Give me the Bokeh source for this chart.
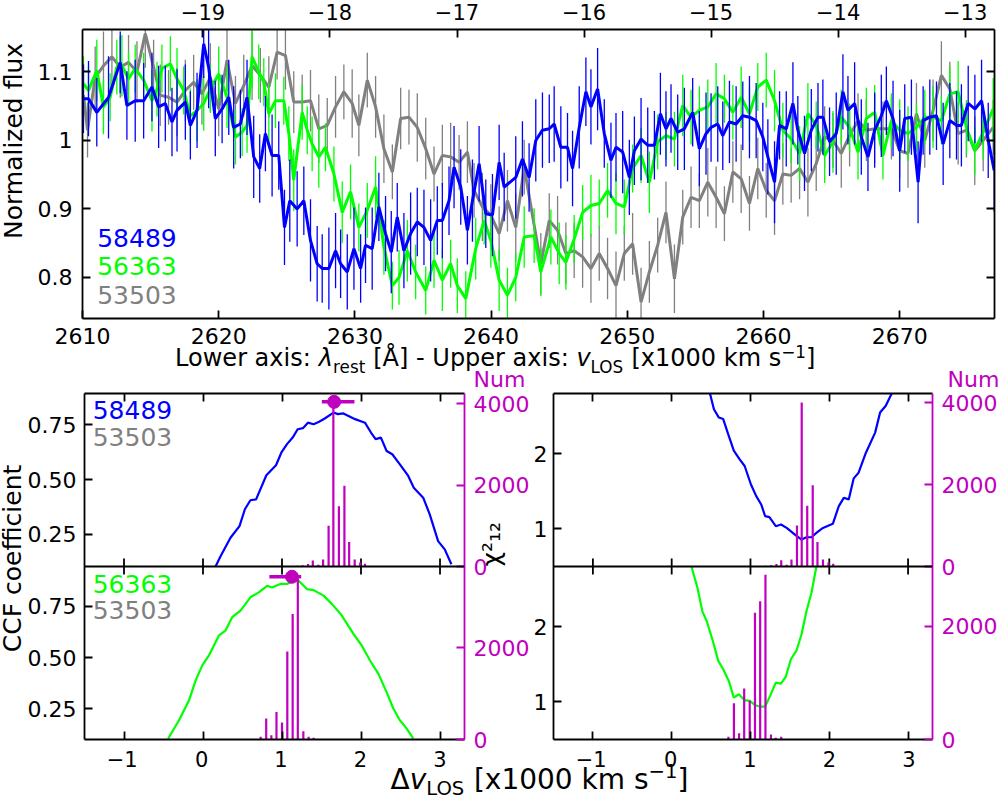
import numpy as np
from bokeh.plotting import figure
from bokeh.models import Range1d, LinearAxis, FixedTicker, Label, Span
from bokeh.layouts import column, row
from bokeh.embed import file_html
from bokeh.resources import INLINE
from bokeh.core.properties import value

FONT = "DejaVu Sans"
BLUE, GREEN, GRAY, MAG = "#0000ff", "#00ff00", "#808080", "#bf00bf"
TICK_FS = "22px"        # tick labels drawn by the axes
STRIP_FS = "21px"       # tick labels drawn in the label strips

# ---------------- spectra: rest wavelength [A], normalized flux, 1-sigma error ----------------
blue_wave = [
    2610.07, 2610.44, 2611.05, 2611.91, 2612.77, 2613.26, 2613.87, 2614.49, 2615.10, 2615.59,
    2616.08, 2616.57, 2616.94, 2617.55, 2617.92, 2618.41, 2618.90, 2619.26, 2619.75, 2620.25,
    2620.74, 2621.10, 2621.59, 2622.08, 2622.57, 2623.01, 2623.43, 2623.92, 2624.41, 2624.83,
    2625.22, 2625.76, 2626.25, 2626.74, 2627.23, 2627.60, 2628.09, 2628.58, 2628.95, 2629.44,
    2629.93, 2630.42, 2630.78, 2631.27, 2631.76, 2632.25, 2632.67, 2633.11, 2633.60, 2634.09,
    2634.58, 2635.07, 2635.56, 2636.05, 2636.42, 2636.91, 2637.28, 2637.77, 2638.26, 2638.63,
    2639.12, 2639.61, 2640.10, 2640.59,
    2640.96, 2641.81, 2642.30, 2642.79, 2643.28, 2643.77, 2644.27, 2644.63, 2645.12, 2645.61,
    2645.98, 2646.47, 2646.96, 2647.33, 2647.82, 2648.31, 2648.80, 2649.17, 2649.66, 2650.15,
    2650.52, 2651.01, 2651.50, 2651.99, 2652.43, 2652.84, 2653.21, 2653.70, 2654.19, 2654.80,
    2655.29, 2655.78, 2656.15, 2656.64, 2657.01, 2657.50, 2657.99, 2658.48, 2658.97, 2659.46,
    2659.95, 2660.32, 2660.81, 2661.18, 2661.67, 2662.16, 2662.52, 2663.01, 2663.51, 2664.00,
    2664.36, 2664.85, 2665.34, 2665.83, 2666.20, 2666.69, 2667.18, 2667.67, 2668.16, 2668.65,
    2669.02, 2669.51, 2670.00, 2670.37, 2670.86, 2671.35, 2671.72, 2672.21, 2672.70, 2673.19,
    2673.68, 2674.17, 2674.53, 2675.03, 2675.52, 2676.01, 2676.50, 2676.94]
blue_flux = [
    1.061, 1.061, 1.041, 1.063, 1.114, 1.051, 1.058, 1.058, 1.078, 1.049,
    1.054, 1.027, 1.044, 1.056, 1.022, 1.044, 1.141, 1.107, 1.032, 1.046,
    1.063, 1.019, 1.024, 1.063, 0.976, 0.959, 1.010, 0.978, 0.978, 0.873,
    0.912, 0.900, 0.912, 0.854, 0.820, 0.813, 0.813, 0.839, 0.820, 0.808,
    0.842, 0.813, 0.847, 0.842, 0.903, 0.864, 0.837, 0.888, 0.839, 0.864,
    0.881, 0.873, 0.854, 0.883, 0.883, 0.912, 0.961, 0.932, 0.869, 0.912,
    0.966, 0.893, 0.891, 0.968,
    0.932, 0.946, 0.973, 0.946, 1.000, 1.015, 1.017, 1.024, 0.990, 0.990,
    0.959, 1.019, 1.071, 1.049, 1.075, 1.010, 0.971, 0.990, 0.983, 0.946,
    0.985, 1.002, 0.993, 0.993, 1.039, 1.017, 1.032, 1.012, 1.017, 1.041,
    0.988, 1.010, 1.019, 1.024, 1.007, 1.027, 1.024, 1.036, 1.034, 1.029,
    1.005, 0.976, 0.939, 1.022, 1.017, 1.054, 1.015, 0.981, 1.015, 1.034,
    1.034, 0.998, 1.010, 1.071, 1.044, 1.054, 1.005, 0.976, 1.015, 1.036,
    1.058, 1.032, 0.985, 1.032, 1.034, 0.939, 1.029, 1.034, 1.036, 0.995,
    1.029, 1.022, 1.022, 1.054, 1.046, 1.058, 1.000, 0.956]
blue_err = [
    0.050, 0.055, 0.050, 0.060, 0.045, 0.050, 0.060, 0.055, 0.050, 0.060,
    0.055, 0.050, 0.060, 0.055, 0.050, 0.055, 0.050, 0.060, 0.055, 0.050,
    0.055, 0.060, 0.050, 0.055, 0.060, 0.050, 0.055, 0.060, 0.050, 0.055,
    0.060, 0.055, 0.050, 0.060, 0.055, 0.050, 0.060, 0.055, 0.050, 0.055,
    0.060, 0.050, 0.055, 0.060, 0.050, 0.055, 0.060, 0.050, 0.055, 0.060,
    0.050, 0.055, 0.060, 0.050, 0.055, 0.050, 0.060, 0.055, 0.050, 0.060,
    0.055, 0.050, 0.060, 0.055,
    0.050, 0.060, 0.055, 0.050, 0.060, 0.055, 0.050, 0.055, 0.060, 0.050,
    0.055, 0.060, 0.050, 0.055, 0.060, 0.050, 0.055, 0.050, 0.060, 0.055,
    0.050, 0.060, 0.055, 0.050, 0.060, 0.055, 0.050, 0.055, 0.060, 0.050,
    0.055, 0.060, 0.050, 0.055, 0.050, 0.060, 0.055, 0.050, 0.060, 0.055,
    0.050, 0.055, 0.060, 0.050, 0.055, 0.060, 0.050, 0.055, 0.060, 0.050,
    0.055, 0.050, 0.060, 0.055, 0.050, 0.060, 0.055, 0.050, 0.055, 0.060,
    0.050, 0.055, 0.060, 0.050, 0.055, 0.060, 0.050, 0.055, 0.050, 0.060,
    0.055, 0.050, 0.060, 0.055, 0.050, 0.060, 0.055, 0.060]

green_wave = [
    2610.07, 2610.44, 2611.05, 2611.54, 2612.03, 2612.52, 2612.89, 2613.38, 2613.87, 2614.49,
    2615.10, 2615.47, 2615.83, 2616.45, 2616.94, 2617.43, 2617.92, 2618.41, 2618.90, 2619.39,
    2620.00, 2620.61, 2621.23, 2621.72, 2622.08, 2622.45, 2622.94, 2623.31, 2623.68, 2624.17,
    2624.78, 2625.15, 2625.51, 2626.13, 2626.50, 2626.86, 2627.35, 2627.84, 2628.46, 2629.07,
    2629.68, 2630.29, 2630.91, 2631.52, 2632.13, 2632.75, 2633.24, 2633.85, 2634.46, 2635.20,
    2635.81, 2636.42, 2637.03, 2637.52, 2638.14, 2638.87, 2639.49, 2639.98, 2640.59,
    2641.20, 2641.81, 2642.43, 2643.16, 2643.65, 2644.39, 2645.00, 2645.49, 2646.10, 2646.72,
    2647.33, 2647.94, 2648.55, 2649.17, 2649.78, 2650.39, 2651.01, 2651.62, 2652.23, 2652.84,
    2653.46, 2654.07, 2654.68, 2655.29, 2655.91, 2656.52, 2657.13, 2657.75, 2658.36, 2658.97,
    2659.58, 2660.20, 2660.81, 2661.42, 2662.03, 2662.65, 2663.26, 2663.87, 2664.49, 2665.10,
    2665.71, 2666.32, 2666.94, 2667.55, 2668.16, 2668.77, 2669.39, 2670.00, 2670.61, 2671.23,
    2671.84, 2672.45, 2673.06, 2673.68, 2674.29, 2674.90, 2675.51, 2676.13, 2676.86]
green_flux = [
    1.083, 1.073, 1.102, 1.049, 1.063, 1.107, 1.109, 1.090, 1.105, 1.088,
    1.058, 1.075, 1.105, 1.112, 1.090, 1.073, 1.036, 1.044, 1.054, 1.075,
    1.097, 1.063, 1.005, 1.012, 1.022, 1.122, 1.100, 1.085, 1.039, 1.058,
    1.058, 1.010, 0.942, 1.041, 1.015, 0.995, 0.976, 0.990, 0.951, 0.895,
    0.925, 0.873, 0.898, 0.932, 0.844, 0.788, 0.800, 0.839, 0.808, 0.781,
    0.825, 0.796, 0.820, 0.788, 0.769, 0.842, 0.883, 0.854, 0.796,
    0.774, 0.800, 0.859, 0.861, 0.808, 0.859, 0.835, 0.822, 0.856, 0.895,
    0.905, 0.908, 0.927, 0.908, 0.903, 0.959, 0.978, 0.939, 0.998, 1.007,
    1.002, 1.051, 1.034, 1.044, 1.049, 1.068, 1.061, 1.041, 1.063, 1.039,
    1.078, 1.088, 1.058, 1.015, 1.002, 0.981, 1.039, 1.022, 0.978, 0.998,
    1.034, 1.019, 0.983, 1.032, 1.041, 0.978, 1.029, 1.015, 1.010, 1.019,
    1.034, 1.034, 1.029, 1.068, 1.071, 1.019, 0.985, 1.012, 1.046]
green_err = [
    0.040, 0.035, 0.045, 0.040, 0.035, 0.040, 0.045, 0.040, 0.035, 0.040,
    0.045, 0.040, 0.035, 0.040, 0.045, 0.035, 0.040, 0.045, 0.040, 0.035,
    0.040, 0.045, 0.040, 0.035, 0.040, 0.045, 0.040, 0.035, 0.045, 0.040,
    0.035, 0.040, 0.045, 0.040, 0.035, 0.040, 0.045, 0.035, 0.040, 0.045,
    0.040, 0.035, 0.040, 0.045, 0.040, 0.035, 0.040, 0.045, 0.040, 0.035,
    0.040, 0.045, 0.035, 0.040, 0.040, 0.045, 0.035, 0.040, 0.045,
    0.040, 0.035, 0.045, 0.040, 0.035, 0.040, 0.045, 0.040, 0.035, 0.040,
    0.045, 0.035, 0.040, 0.045, 0.040, 0.035, 0.040, 0.045, 0.040, 0.035,
    0.040, 0.045, 0.040, 0.035, 0.040, 0.045, 0.035, 0.040, 0.045, 0.040,
    0.035, 0.040, 0.045, 0.040, 0.035, 0.040, 0.045, 0.035, 0.040, 0.045,
    0.040, 0.035, 0.040, 0.045, 0.040, 0.035, 0.040, 0.045, 0.040, 0.035,
    0.040, 0.045, 0.035, 0.040, 0.045, 0.040, 0.035, 0.040, 0.045]

gray_wave = [
    2610.07, 2610.37, 2610.93, 2611.54, 2612.16, 2612.77, 2613.38, 2614.00, 2614.61, 2615.22,
    2615.71, 2616.32, 2616.94, 2617.55, 2618.16, 2618.77, 2619.39, 2620.00, 2620.61, 2621.23,
    2621.84, 2622.45, 2623.06, 2623.68, 2624.29, 2624.90, 2625.51, 2626.13, 2626.74, 2627.35,
    2627.97, 2628.58, 2629.19, 2629.80, 2630.29, 2630.91, 2631.52, 2632.13, 2632.75, 2633.36,
    2633.97, 2634.58, 2635.20, 2635.81, 2636.42, 2637.03, 2637.65, 2638.26, 2638.75, 2639.36,
    2639.98, 2640.59,
    2641.20, 2641.81, 2642.43, 2643.65, 2644.27, 2644.88, 2645.49, 2646.10, 2646.72, 2647.33,
    2647.94, 2648.55, 2649.17, 2649.78, 2650.39, 2651.01, 2651.62, 2652.23, 2652.84, 2653.46,
    2654.07, 2654.68, 2655.29, 2655.91, 2656.52, 2657.13, 2657.75, 2658.36, 2658.97, 2659.58,
    2660.20, 2660.81, 2661.42, 2662.03, 2662.65, 2663.26, 2663.87, 2664.49, 2665.10, 2665.71,
    2666.32, 2666.94, 2667.55, 2668.16, 2668.77, 2669.39, 2670.00, 2670.61, 2671.23, 2671.84,
    2672.45, 2673.06, 2673.68, 2674.29, 2674.90, 2675.51, 2676.13, 2676.86]
gray_flux = [
    1.066, 1.015, 1.092, 1.109, 1.122, 1.107, 1.114, 1.100, 1.156, 1.107,
    1.066, 1.063, 1.056, 1.073, 1.085, 1.068, 1.092, 1.046, 1.117, 1.054,
    1.080, 1.109, 1.095, 1.078, 1.129, 1.124, 1.056, 1.056, 1.058, 1.017,
    1.022, 1.049, 1.071, 1.054, 1.022, 1.088, 1.049, 0.988, 0.954, 1.032,
    1.034, 1.019, 0.988, 0.951, 0.978, 0.976, 0.968, 0.983, 0.927, 0.903,
    0.891, 0.864,
    0.912, 0.873, 0.961, 0.820, 0.883, 0.869, 0.835, 0.839, 0.830, 0.813,
    0.835, 0.813, 0.788, 0.835, 0.849, 0.764, 0.808, 0.847, 0.895, 0.798,
    0.888, 0.917, 0.912, 0.939, 0.917, 0.893, 0.954, 0.944, 0.908, 0.959,
    0.927, 0.912, 0.951, 0.949, 0.959, 0.939, 0.966, 1.005, 1.000, 0.981,
    1.007, 1.029, 1.015, 1.017, 1.017, 1.017, 0.985, 0.981, 1.039, 1.000,
    1.044, 1.095, 1.075, 1.010, 1.015, 0.985, 1.000, 1.019]
gray_err = [
    0.045, 0.040, 0.045, 0.050, 0.040, 0.045, 0.040, 0.045, 0.050, 0.040,
    0.045, 0.040, 0.050, 0.045, 0.040, 0.045, 0.050, 0.040, 0.045, 0.040,
    0.045, 0.050, 0.040, 0.045, 0.040, 0.050, 0.045, 0.040, 0.045, 0.050,
    0.040, 0.045, 0.040, 0.050, 0.045, 0.040, 0.045, 0.050, 0.040, 0.045,
    0.040, 0.050, 0.045, 0.040, 0.045, 0.050, 0.040, 0.045, 0.040, 0.050,
    0.045, 0.040,
    0.045, 0.050, 0.040, 0.045, 0.040, 0.050, 0.045, 0.040, 0.045, 0.050,
    0.040, 0.045, 0.050, 0.040, 0.045, 0.050, 0.045, 0.040, 0.045, 0.050,
    0.040, 0.045, 0.040, 0.050, 0.045, 0.040, 0.045, 0.050, 0.040, 0.045,
    0.040, 0.050, 0.045, 0.040, 0.045, 0.050, 0.040, 0.045, 0.040, 0.050,
    0.045, 0.040, 0.045, 0.050, 0.040, 0.045, 0.040, 0.050, 0.045, 0.040,
    0.045, 0.050, 0.040, 0.045, 0.040, 0.050, 0.045, 0.040]

epoch_names = ["58489", "56363", "53503"]

# ---------------- CCF and chi^2 curves vs. velocity shift [x1000 km/s] ----------------
ccf_a_dv = [0.159, 0.222, 0.348, 0.462, 0.530, 0.600, 0.672, 0.802, 0.924, 0.991, 1.063, 1.135,
            1.198, 1.265, 1.328, 1.400, 1.470, 1.546, 1.652, 1.706, 1.778, 1.925, 2.050, 2.126,
            2.185, 2.252, 2.324, 2.396, 2.492, 2.598, 2.668, 2.787, 2.870, 2.976, 3.060, 3.144]
ccf_a_val = [0.104, 0.151, 0.235, 0.288, 0.365, 0.406, 0.410, 0.520, 0.566, 0.623, 0.662, 0.692,
             0.730, 0.735, 0.760, 0.753, 0.764, 0.780, 0.806, 0.799, 0.802, 0.776, 0.760, 0.715,
             0.685, 0.692, 0.631, 0.616, 0.570, 0.517, 0.463, 0.418, 0.342, 0.220, 0.182, 0.114]
ccf_b_dv = [-0.441, -0.303, -0.177, -0.093, -0.009, 0.076, 0.202, 0.285, 0.370, 0.474, 0.600,
            0.706, 0.811, 0.874, 0.979, 1.063, 1.148, 1.211, 1.315, 1.400, 1.526, 1.630, 1.757,
            1.904, 2.009, 2.114, 2.219, 2.324, 2.409, 2.492, 2.576, 2.661]
ccf_b_val = [0.106, 0.195, 0.292, 0.389, 0.462, 0.511, 0.608, 0.632, 0.697, 0.729, 0.794,
             0.818, 0.850, 0.842, 0.859, 0.859, 0.875, 0.875, 0.834, 0.829, 0.802, 0.762, 0.705,
             0.616, 0.559, 0.486, 0.422, 0.332, 0.252, 0.195, 0.155, 0.106]
chi_a_dv = [0.486, 0.536, 0.599, 0.654, 0.717, 0.788, 0.863, 0.926, 1.006, 1.073, 1.136, 1.186,
            1.240, 1.321, 1.387, 1.459, 1.572, 1.648, 1.711, 1.774, 1.836, 1.920, 2.045, 2.121,
            2.184, 2.247, 2.310, 2.372, 2.465, 2.582, 2.645, 2.717, 2.792]
chi_a_val = [2.800, 2.590, 2.480, 2.460, 2.260, 2.040, 1.925, 1.836, 1.590, 1.436, 1.325, 1.169,
             1.156, 1.036, 1.058, 1.013, 0.916, 0.858, 0.889, 0.889, 0.947, 1.013, 1.067, 1.303,
             1.413, 1.392, 1.672, 1.747, 2.013, 2.280, 2.547, 2.636, 2.800]
chi_b_dv = [0.252, 0.327, 0.390, 0.444, 0.516, 0.591, 0.654, 0.725, 0.788, 0.851, 0.926, 0.989,
            1.060, 1.123, 1.186, 1.249, 1.321, 1.387, 1.447, 1.513, 1.585, 1.648, 1.711, 1.774,
            1.836]
chi_b_val = [2.797, 2.518, 2.200, 2.076, 1.833, 1.545, 1.434, 1.279, 1.057, 1.102, 1.023, 1.013,
             0.956, 0.938, 0.938, 1.080, 1.256, 1.243, 1.332, 1.567, 1.686, 1.899, 2.208, 2.451,
             2.797]

# histograms of the best shift (counts)
hist_a_dv = [1.19, 1.26, 1.33, 1.39, 1.46, 1.52, 1.59, 1.65, 1.72, 1.79, 1.85, 1.92, 1.99, 2.05]
hist_a_num = [20, 30, 60, 150, 40, 170, 1000, 4000, 1480, 1980, 600, 170, 100, 70]
hist_b_dv = [0.73, 0.80, 0.865, 0.93, 1.00, 1.067, 1.135, 1.20, 1.27, 1.337, 1.40]
hist_b_num = [60, 460, 90, 600, 370, 1920, 2740, 3500, 180, 60, 40]
hist_c_dv = [0.72, 0.79, 0.855, 0.92, 0.99, 1.057, 1.123, 1.19, 1.26, 1.32, 1.39]
hist_c_num = [50, 640, 110, 900, 690, 2240, 2440, 2910, 90, 30, 50]

# best shift with its range (lo, best, hi) and marker height on the CCF axis
best_a = (1.504, 1.660, 1.917, 0.855)
best_b = (0.840, 1.126, 1.243, 0.894)

# ---------------- ranges and ticks ----------------
wave_range = (2610.0, 2676.96)
flux_range = (0.740, 1.162)
wave_ticks = [2610, 2620, 2630, 2640, 2650, 2660, 2670]
vel_ticks = [-19, -18, -17, -16, -15, -14, -13]
flux_ticks = [0.8, 0.9, 1.0, 1.1]
LAM0 = 2796.05
C_KMS = 299792.458
dv_range = (-1.5, 3.31)
dv_ticks = [-1, 0, 1, 2, 3]
ccf_a_range = (0.104, 0.893)
ccf_b_range = (0.101, 0.944)
ccf_ticks = [0.25, 0.50, 0.75]
chi_range = (0.5, 2.8)
chi_ticks = [1, 2]
num_a_range = (0, 4246)
num_b_range = (0, 3774)
num_a2_range = (0, 4220)
num_c_range = (0, 3056)
num_ticks_a = [0, 2000, 4000]
num_ticks_b = [0, 2000]

# ---------------- page layout (pixels) ----------------
PAGE_W, PAGE_H = 1000, 801
LAB_W = 24                       # narrow column holding the rotated y labels
TS_H = 28                        # strip with upper-axis tick labels
TOP_Y0, TOP_FRAME_Y0, TOP_FRAME_Y1, TOP_Y1 = 28, 29, 318, 320
TOP_FRAME_X0, TOP_FRAME_X1 = 82, 994
MID_Y0, MID_Y1 = 320, 392
COL_Y0, COL_FRAME_Y0, COL_FRAME_Y1, COL_Y1 = 392, 393, 739, 748
L_W, L_FRAME_X0, L_FRAME_X1 = 506, 82, 464
R_W, R_FRAME_X0, R_FRAME_X1 = 470, 551, 933


def minus(v):
    return f"{v:g}".replace("-", "\u2212")


def style_axis(ax, color="black", labels=True, standoff=8):
    ax.axis_line_color = color
    ax.axis_line_width = 1.8
    ax.major_tick_line_color = color
    ax.major_tick_line_width = 1.8
    ax.major_tick_in = 8
    ax.major_tick_out = 0
    ax.minor_tick_in = 0
    ax.minor_tick_out = 0
    ax.minor_tick_line_color = None
    ax.major_label_text_font = FONT
    ax.major_label_text_font_size = TICK_FS if labels else "0px"
    ax.major_label_text_color = color if labels else None
    ax.major_label_standoff = standoff if labels else 0
    ax.axis_label_text_font = FONT
    ax.axis_label_text_font_style = "normal"
    ax.axis_label_text_color = "black"
    return ax


ADV = {' ': 651, '[': 799, ']': 799, 'x': 1212, 'k': 1186, 'm': 1995, 's': 1067, 'L': 1141,
       'o': 1253, 'w': 1675, 'e': 1260, 'r': 842, 'a': 1255, 'i': 569, ':': 690, '\u00c5': 1401,
       '-': 739, 'U': 1499, 'p': 1300, 'v': 1212, 'O': 1612, 'S': 1300, 't': 803,
       '\u0394': 1401, '\u03bb': 1212, '\u2212': 1716}
MID = 0.346   # baseline -> vertical middle of the text box, in em


def adv(text, size):
    return sum(ADV.get(ch, 1303) for ch in text) / 2048.0 * size


def compose(fig, x, base, pieces, color="black"):
    """pieces: (text, px size, baseline raise in px, style); fig uses page-pixel data units"""
    for text, size, rise, style in pieces:
        core = text.strip(" ")
        lead = len(text) - len(text.lstrip(" "))
        fig.add_layout(Label(x=x + lead * ADV[' '] / 2048.0 * size, y=base - rise - MID * size,
                             text=core, text_font=FONT, text_font_size=f"{size}px",
                             text_font_style=style, text_color=color,
                             text_baseline="middle", text_align="left"))
        x += adv(text, size)


def upper(rng):
    lo, hi = rng
    return Range1d(lo - (hi - lo), hi)


def lower(rng):
    lo, hi = rng
    return Range1d(lo, hi + (hi - lo))


def panel_ticks(vals, rng, is_upper):
    lo, hi = rng
    base = 1.0 if is_upper else 0.0
    return [round(base + (v - lo) / (hi - lo), 6) for v in vals]


def page_fig(x0, x1, y0, y1, bt=0, bb=0):
    """blank figure whose data units are page pixels (y grows downward)"""
    f = figure(width=x1 - x0, height=y1 - y0, x_range=Range1d(x0, x1),
               y_range=Range1d(y1 - bb, y0 + bt), x_axis_type=None, y_axis_type=None,
               output_backend="svg", toolbar_location=None, min_border_left=0,
               min_border_right=0, min_border_top=bt, min_border_bottom=bb)
    f.outline_line_color = None
    return f


def stretch(rng, f0, f1, s0, s1):
    """data range that maps a frame [f0, f1] (page px) onto a wider strip [s0, s1]"""
    k = (rng[1] - rng[0]) / (f1 - f0)
    return Range1d(rng[0] - (f0 - s0) * k, rng[0] + (s1 - f0) * k)


# ====================== strip with the upper-axis tick labels ======================
vel_range = (C_KMS * (wave_range[0] / LAM0 - 1) / 1000.0, C_KMS * (wave_range[1] / LAM0 - 1) / 1000.0)
tstrip = page_fig(0, PAGE_W, 0, TS_H)
tstrip.extra_x_ranges = {"vel": stretch(vel_range, TOP_FRAME_X0, TOP_FRAME_X1, 0, PAGE_W)}
tstrip.text(x=vel_ticks, y=[11.0] * len(vel_ticks), text=[minus(v) for v in vel_ticks],
            x_range_name="vel", text_align="center", text_baseline="middle",
            text_font=value(FONT), text_font_size=value(STRIP_FS), text_color="black")

# ====================== top panel: spectra ======================
top = figure(width=PAGE_W - LAB_W, height=TOP_Y1 - TOP_Y0, x_range=Range1d(*wave_range),
             y_range=Range1d(*flux_range), x_axis_type=None, y_axis_type=None,
             output_backend="svg", toolbar_location=None,
             min_border_left=TOP_FRAME_X0 - LAB_W, min_border_right=PAGE_W - TOP_FRAME_X1,
             min_border_top=TOP_FRAME_Y0 - TOP_Y0, min_border_bottom=TOP_Y1 - TOP_FRAME_Y1)
top.outline_line_color = None
top.extra_x_ranges = {"vel": Range1d(*vel_range)}

for wave, flux, err, col in [(gray_wave, gray_flux, gray_err, GRAY),
                             (green_wave, green_flux, green_err, GREEN),
                             (blue_wave, blue_flux, blue_err, BLUE)]:
    n = min(len(wave), len(flux), len(err))
    w = np.array(wave[:n]); f = np.array(flux[:n]); e = np.array(err[:n])
    top.segment(x0=w, y0=f - e, x1=w, y1=f + e, line_color=col, line_width=1.3)
    top.line(w, f, line_color=col, line_width=3)

for name, col, y in zip(epoch_names, [BLUE, GREEN, GRAY], [0.8577, 0.816, 0.7737]):
    top.add_layout(Label(x=2611.08, y=y, text=name, text_color=col, text_font=FONT,
                         text_font_size="25px", text_baseline="middle"))

top.add_layout(style_axis(LinearAxis(ticker=FixedTicker(ticks=wave_ticks)), labels=False), "below")
top.add_layout(style_axis(LinearAxis(x_range_name="vel", ticker=FixedTicker(ticks=vel_ticks)),
                          labels=False), "above")
top.add_layout(style_axis(LinearAxis(ticker=FixedTicker(ticks=flux_ticks)), standoff=10), "left")
top.add_layout(style_axis(LinearAxis(ticker=FixedTicker(ticks=flux_ticks)), labels=False), "right")

lab_top = page_fig(0, LAB_W, TOP_Y0, TOP_Y1, bt=TOP_FRAME_Y0 - TOP_Y0, bb=TOP_Y1 - TOP_FRAME_Y1)
lab_top.add_layout(Label(x=13.0, y=140.5, text="Normalized flux", angle=np.pi / 2, text_font=FONT,
                         text_font_size="25px", text_color="black", text_align="center",
                         text_baseline="middle"))

# ====================== strip between the rows ======================
mid = page_fig(0, PAGE_W, MID_Y0, MID_Y1)
mid.extra_x_ranges = {"wave": stretch(wave_range, TOP_FRAME_X0, TOP_FRAME_X1, 0, PAGE_W)}
mid.text(x=wave_ticks, y=[335.0] * len(wave_ticks), text=[str(v) for v in wave_ticks],
         x_range_name="wave", text_align="center", text_baseline="middle",
         text_font=value(FONT), text_font_size=value(TICK_FS), text_color="black")
compose(mid, 174.6, 366.0, [
    ("Lower axis: ", 24, 0, "normal"), ("\u03bb", 24, 0, "italic"), ("rest", 16.8, -6.0, "normal"),
    (" [\u00c5] - Upper axis: ", 24, 0, "normal"), ("v", 24, 0, "italic"),
    ("LOS", 16.8, -6.0, "normal"), (" [x1000 km s", 24, 0, "normal"),
    ("\u22121", 16.8, 9.0, "normal"), ("]", 24, 0, "normal")])
for xn in (473, 947):
    compose(mid, xn, 386.5, [("Num", 22, 0, "normal")], color=MAG)


# ====================== lower panels ======================
def col_fig(width, x0, f0, f1):
    f = figure(width=width, height=COL_Y1 - COL_Y0, x_range=Range1d(*dv_range), y_range=Range1d(0, 2),
               x_axis_type=None, y_axis_type=None, output_backend="svg", toolbar_location=None,
               min_border_left=f0 - x0, min_border_right=x0 + width - f1,
               min_border_top=COL_FRAME_Y0 - COL_Y0, min_border_bottom=COL_Y1 - COL_FRAME_Y1)
    f.outline_line_color = None
    f.add_layout(Span(location=1, dimension="width", line_color="black", line_width=1.8))
    f.scatter(x=dv_ticks, y=[1] * len(dv_ticks), marker="dash", angle=np.pi / 2, size=16,
              line_color="black", line_width=1.8)
    f.add_layout(style_axis(LinearAxis(ticker=FixedTicker(ticks=dv_ticks)), labels=False), "below")
    f.add_layout(style_axis(LinearAxis(ticker=FixedTicker(ticks=dv_ticks)), labels=False), "above")
    return f


def right_num_axis(f, rng_a, rng_b, label=None):
    rt = panel_ticks(num_ticks_a, rng_a, True) + panel_ticks(num_ticks_b, rng_b, False)
    labs = [str(v) for v in num_ticks_a + num_ticks_b]
    ax = style_axis(LinearAxis(ticker=FixedTicker(ticks=rt), major_label_overrides=dict(zip(rt, labs))),
                    color=MAG, standoff=9)
    if label:
        ax.axis_label = label
        ax.axis_label_text_font_size = "25px"
        ax.axis_label_orientation = np.pi / 2
        ax.axis_label_standoff = -41
    f.add_layout(ax, "right")


# ---- left column: CCF ----
left = col_fig(L_W, LAB_W, L_FRAME_X0, L_FRAME_X1)
left.extra_y_ranges = {"ccf_a": upper(ccf_a_range), "ccf_b": lower(ccf_b_range),
                       "num_a": upper(num_a_range), "num_b": lower(num_b_range)}
left.line(ccf_a_dv, ccf_a_val, y_range_name="ccf_a", line_color=BLUE, line_width=2.2)
left.line(ccf_b_dv, ccf_b_val, y_range_name="ccf_b", line_color=GREEN, line_width=2.2)
left.vbar(x=hist_a_dv, top=hist_a_num, bottom=0, width=0.028, y_range_name="num_a",
          fill_color=MAG, line_color=None)
left.vbar(x=hist_b_dv, top=hist_b_num, bottom=0, width=0.028, y_range_name="num_b",
          fill_color=MAG, line_color=None)
for best, rn in [(best_a, "ccf_a"), (best_b, "ccf_b")]:
    lo, b, hi, yy = best
    left.segment(x0=[lo], x1=[hi], y0=[yy], y1=[yy], y_range_name=rn, line_color=MAG, line_width=3.5)
    left.scatter([b], [yy], y_range_name=rn, size=13, color=MAG)

lt = panel_ticks(ccf_ticks, ccf_a_range, True) + panel_ticks(ccf_ticks, ccf_b_range, False)
left.add_layout(style_axis(LinearAxis(ticker=FixedTicker(ticks=lt),
                                      major_label_overrides=dict(zip(lt, [f"{v:.2f}" for v in ccf_ticks] * 2))),
                           standoff=8), "left")
right_num_axis(left, num_a_range, num_b_range, label="\u03c7\u00b2\u2081\u2082")

for name, col, y, rn in [("58489", BLUE, 0.8186, "ccf_a"), ("53503", GRAY, 0.695, "ccf_a"),
                         ("56363", GREEN, 0.8578, "ccf_b"), ("53503", GRAY, 0.734, "ccf_b")]:
    left.add_layout(Label(x=-1.396, y=y, y_range_name=rn, text=name, text_color=col,
                          text_font=FONT, text_font_size="25px", text_baseline="middle"))

# ---- right column: chi^2 ----
right = col_fig(R_W, LAB_W + L_W, R_FRAME_X0, R_FRAME_X1)
right.extra_y_ranges = {"chi_a": upper(chi_range), "chi_b": lower(chi_range),
                        "num_a": upper(num_a2_range), "num_b": lower(num_c_range)}
right.line(chi_a_dv, chi_a_val, y_range_name="chi_a", line_color=BLUE, line_width=2.2)
right.line(chi_b_dv, chi_b_val, y_range_name="chi_b", line_color=GREEN, line_width=2.2)
right.vbar(x=hist_a_dv, top=hist_a_num, bottom=0, width=0.028, y_range_name="num_a",
           fill_color=MAG, line_color=None)
right.vbar(x=hist_c_dv, top=hist_c_num, bottom=0, width=0.028, y_range_name="num_b",
           fill_color=MAG, line_color=None)
ct = panel_ticks(chi_ticks, chi_range, True) + panel_ticks(chi_ticks, chi_range, False)
right.add_layout(style_axis(LinearAxis(ticker=FixedTicker(ticks=ct),
                                       major_label_overrides=dict(zip(ct, [str(v) for v in chi_ticks] * 2))),
                            standoff=6), "left")
right_num_axis(right, num_a2_range, num_c_range)

lab_col = page_fig(0, LAB_W, COL_Y0, COL_Y1, bt=COL_FRAME_Y0 - COL_Y0, bb=COL_Y1 - COL_FRAME_Y1)
lab_col.add_layout(Label(x=11.5, y=558.0, text="CCF coefficient", angle=np.pi / 2, text_font=FONT,
                         text_font_size="25px", text_color="black", text_align="center",
                         text_baseline="middle"))

# ====================== bottom strip: x tick labels and shared x label ======================
bot = page_fig(0, PAGE_W, COL_Y1, PAGE_H)
bot.extra_x_ranges = {"dvL": stretch(dv_range, L_FRAME_X0, L_FRAME_X1, 0, PAGE_W),
                      "dvR": stretch(dv_range, R_FRAME_X0, R_FRAME_X1, 0, PAGE_W)}
for rn in ("dvL", "dvR"):
    bot.text(x=dv_ticks, y=[765.5 - MID * 21] * len(dv_ticks), text=[minus(v) for v in dv_ticks],
             x_range_name=rn, text_align="center", text_baseline="middle",
             text_font=value(FONT), text_font_size=value(STRIP_FS), text_color="black")
compose(bot, 390, 789.0, [
    ("\u0394", 28, 0, "normal"), ("v", 28, 0, "italic"), ("LOS", 19.6, -6.0, "normal"),
    (" [x1000 km s", 28, 0, "normal"), ("\u22121", 19.6, 12.0, "normal"), ("]", 28, 0, "normal")])

layout = column(tstrip, row(lab_top, top), mid, row(lab_col, left, right), bot)
open("out.html", "w").write(file_html(layout, INLINE))
